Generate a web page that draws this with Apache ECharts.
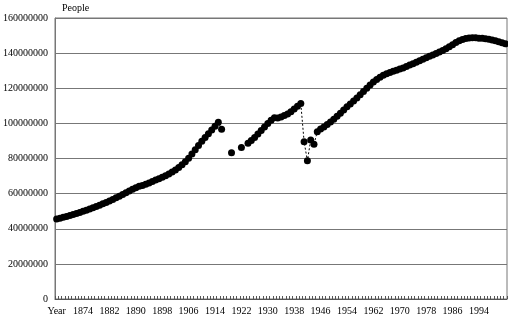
<!DOCTYPE html>
<html>
<head>
<meta charset="utf-8">
<script src="https://cdn.jsdelivr.net/npm/echarts@6/dist/echarts.min.js"></script>
<style>
html,body{margin:0;padding:0;background:#fff;}
#chart{width:508px;height:318px;}
</style>
</head>
<body>
<div id="chart"></div>
<script>
var categories = ['Year',
 '1867','1868','1869','1870','1871','1872','1873','1874','1875','1876','1877','1878','1879','1880',
 '1881','1882','1883','1884','1885','1886','1887','1888','1889','1890','1891','1892','1893','1894','1895',
 '1896','1897','1898','1899','1900','1901','1902','1903','1904','1905','1906','1907','1908','1909','1910',
 '1911','1912','1913','1914','1915','1916','1917','1918','1919','1920','1921','1922','1923','1924','1925',
 '1926','1927','1928','1929','1930','1931','1932','1933','1934','1935','1936','1937','1938','1939','1940',
 '1941','1942','1943','1944','1945','1946','1947','1948','1949','1950','1951','1952','1953','1954','1955',
 '1956','1957','1958','1959','1960','1961','1962','1963','1964','1965','1966','1967','1968','1969','1970',
 '1971','1972','1973','1974','1975','1976','1977','1978','1979','1980','1981','1982','1983','1984','1985',
 '1986','1987','1988','1989','1990','1991','1992','1993','1994','1995','1996','1997','1998','1999','2000',
 '2001','2002'];

var xTickLabels = ['Year','1874','1882','1890','1898','1906','1914','1922','1930','1938','1946',
 '1954','1962','1970','1978','1986','1994'];

var people = [
 45500000, 46000000, 46500000, 47000000, 47500000, 48100000, 48700000, 49300000, 49900000, 50500000,
 51200000, 51900000, 52600000, 53400000, 54200000, 55000000, 55800000, 56700000, 57600000, 58500000,
 59500000, 60500000, 61500000, 62500000, 63400000, 64200000, 64600000, 65300000, 66100000, 66900000,
 67700000, 68500000, 69300000, 70200000, 71200000, 72300000, 73500000, 74900000, 76400000, 78100000,
 80200000, 82600000, 85000000, 87400000, 89800000, 92000000, 94100000, 96200000, 98400000, 100600000,
 96600000, null, null, 83300000, null, null, 86200000, null, 88700000, 90300000,
 92000000, 94000000, 96000000, 98000000, 100000000, 101800000, 103200000, 103000000, 103600000, 104500000,
 105300000, 106600000, 108200000, 109800000, 111300000, 89600000, 78700000, 90500000, 88100000, 95300000,
 96800000, 98000000, 99300000, 100800000, 102300000, 104000000, 105800000, 107600000, 109400000, 111100000,
 112800000, 114500000, 116300000, 118200000, 120000000, 121900000, 123500000, 125000000, 126300000, 127400000,
 128300000, 129000000, 129700000, 130300000, 130900000, 131600000, 132400000, 133200000, 134000000, 134800000,
 135600000, 136500000, 137400000, 138200000, 139000000, 139800000, 140600000, 141500000, 142500000, 143600000,
 144800000, 146000000, 147100000, 147800000, 148300000, 148600000, 148700000, 148700000, 148500000, 148400000,
 148200000, 147900000, 147500000, 147100000, 146500000, 145900000, 145300000];

var yTicks = [0, 20000000, 40000000, 60000000, 80000000, 100000000, 120000000, 140000000, 160000000];

var chart = echarts.init(document.getElementById('chart'));
var font = '"Liberation Serif", "Times New Roman", serif';
chart.setOption({
  animation: false,
  backgroundColor: '#fff',
  grid: {left: 53, right: 1, top: 18, bottom: 19, containLabel: false, show: true, borderColor: '#777', borderWidth: 1},
  xAxis: {
    type: 'category',
    data: categories,
    boundaryGap: true,
    axisLine: {lineStyle: {color: '#555', width: 1}},
    axisTick: {show: true, inside: true, length: 3, interval: 0, lineStyle: {color: '#555'}},
    axisLabel: {
      interval: function (idx, val) { return xTickLabels.indexOf(val) >= 0; },
      margin: 7, fontFamily: font, fontSize: 10, color: '#000'
    },
    splitLine: {show: false}
  },
  yAxis: {
    type: 'value',
    min: yTicks[0],
    max: yTicks[yTicks.length - 1],
    interval: yTicks[1] - yTicks[0],
    name: 'People',
    nameLocation: 'end',
    nameGap: 5,
    nameTextStyle: {fontFamily: font, fontSize: 10, color: '#000', align: 'left', padding: [0, 0, 0, 7]},
    axisLine: {show: true, lineStyle: {color: '#777', width: 1}},
    axisTick: {show: false},
    axisLabel: {margin: 7, fontFamily: font, fontSize: 10, color: '#000', formatter: function (v) { return String(v); }},
    splitLine: {show: true, lineStyle: {color: '#777', width: 1}}
  },
  series: [{
    type: 'line',
    data: people,
    connectNulls: false,
    symbol: 'circle',
    symbolSize: 7,
    showAllSymbol: true,
    itemStyle: {color: '#000'},
    lineStyle: {color: '#000', width: 1, type: [2, 2]}
  }]
});
</script>
</body>
</html>
